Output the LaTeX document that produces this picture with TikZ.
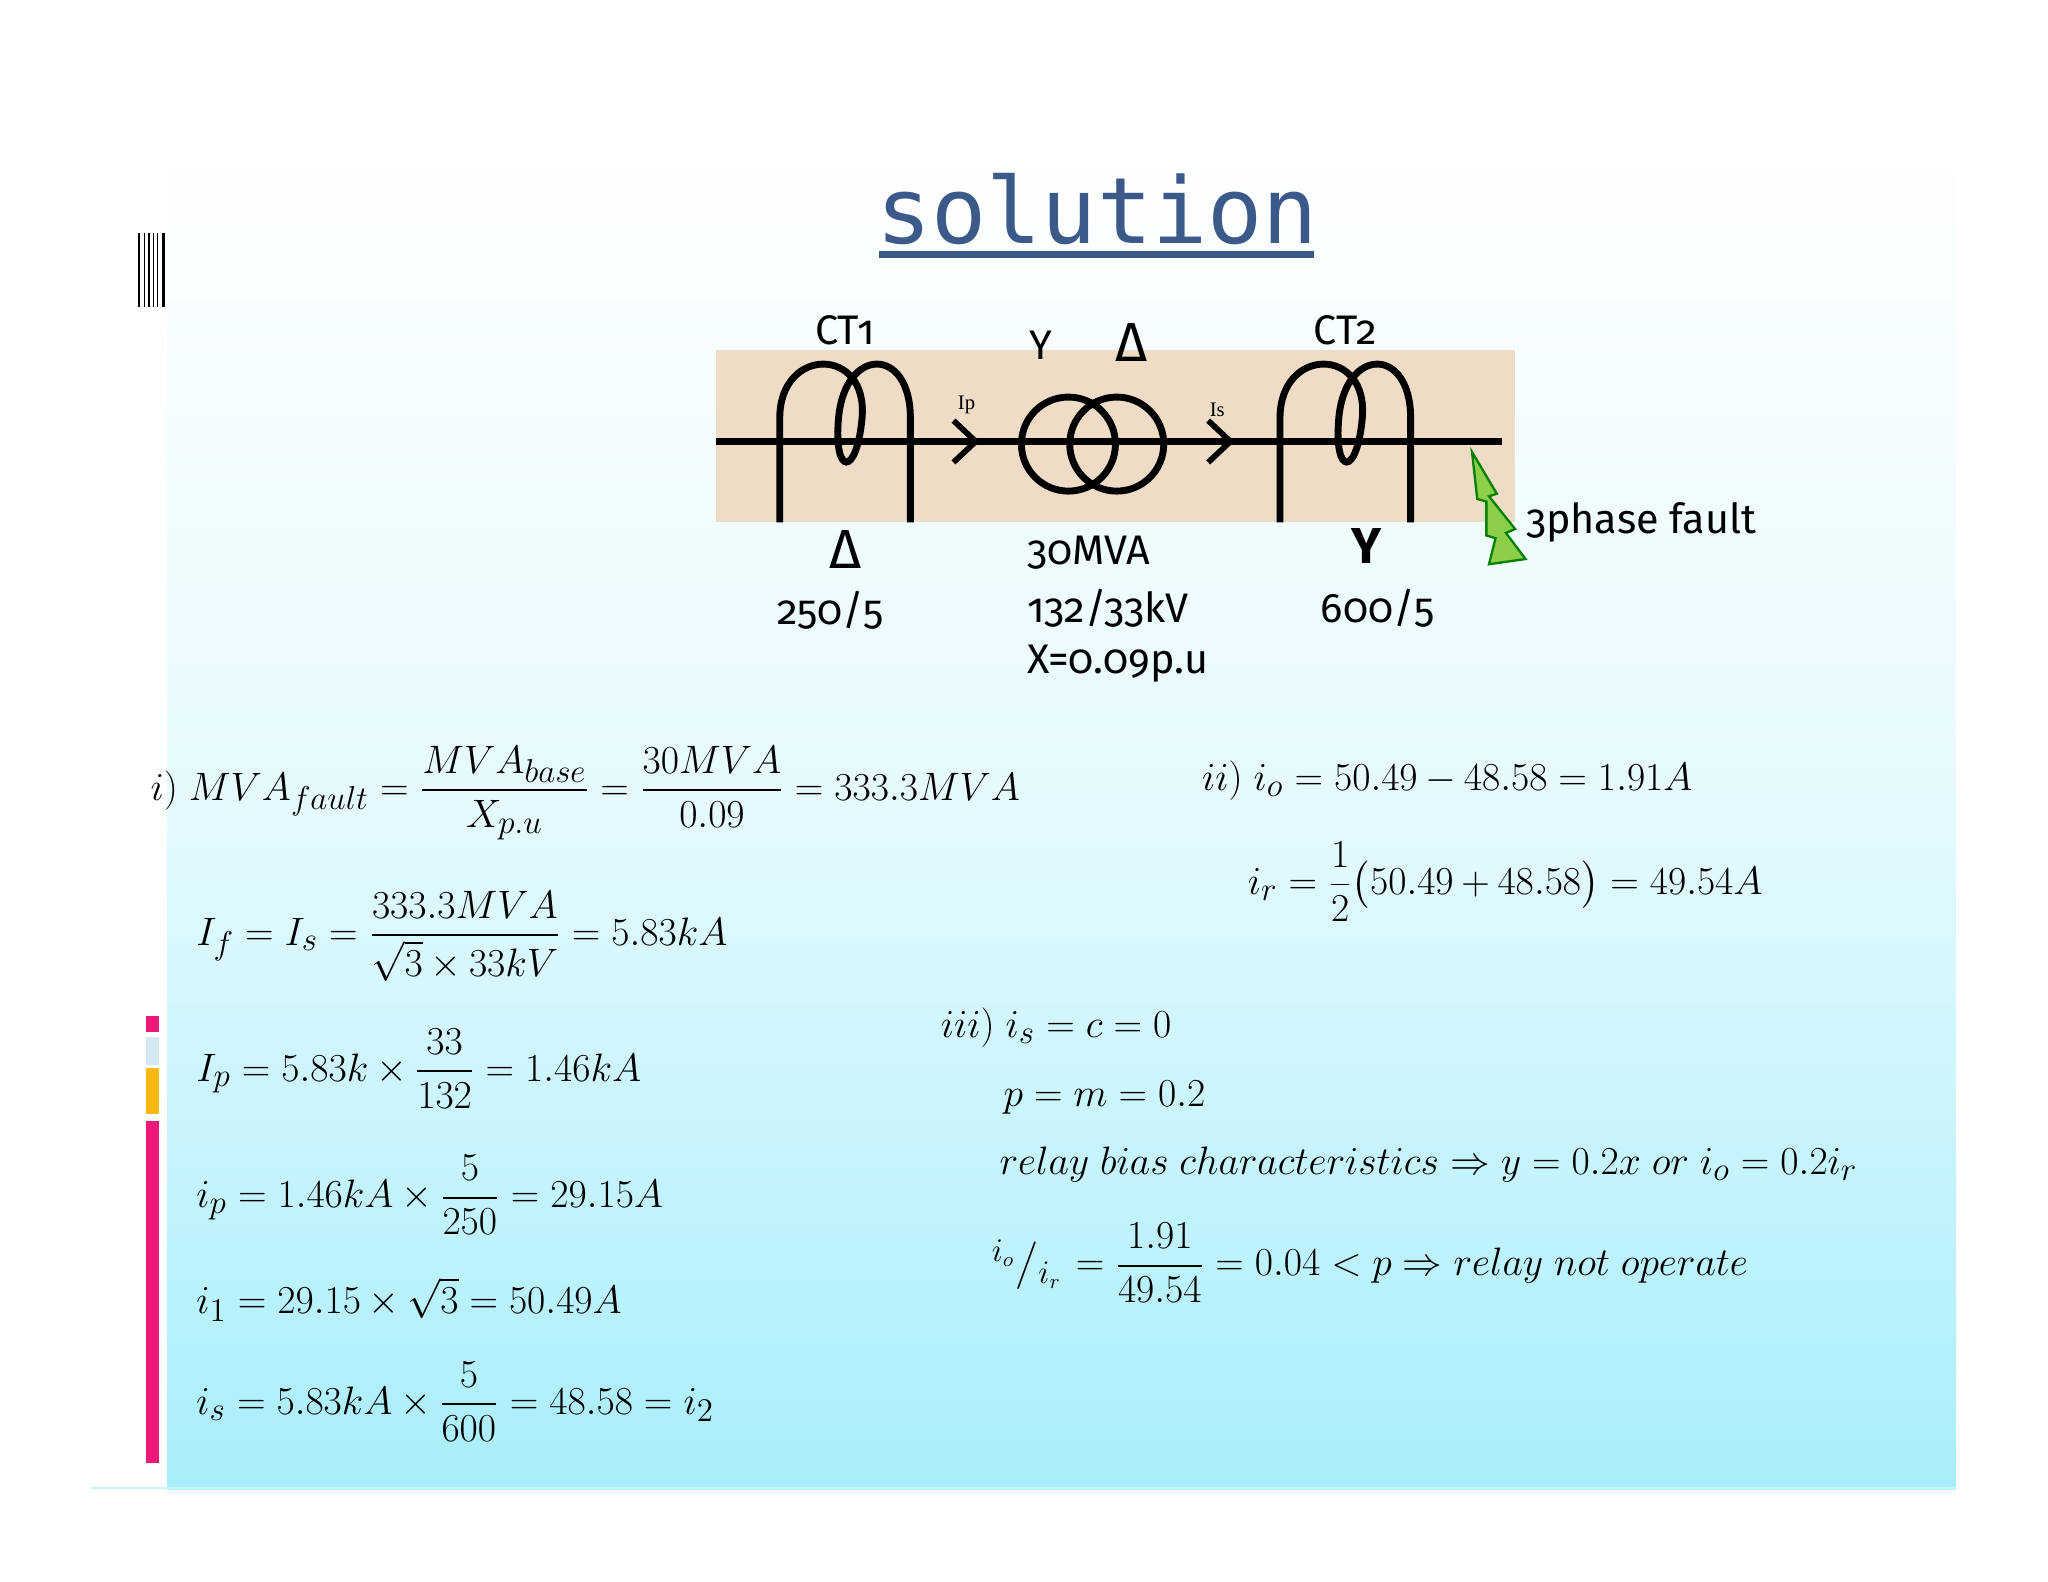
\documentclass[tikz,border=0pt]{standalone}
\usepackage{amsmath}
\usepackage{fontspec}
\setmainfont{Liberation Serif}
\newfontfamily\lab{Fira Sans}[Numbers=OldStyle]
\newfontfamily\ttl{DejaVu Sans Mono}
\usetikzlibrary{arrows.meta}
\AtBeginDocument{\thickmuskip=5mu plus 2mu\relax\medmuskip=3.5mu\relax}
\definecolor{titlec}{HTML}{3B5A8A}
\definecolor{beige}{HTML}{EEDCC6}
\definecolor{cyanb}{HTML}{A8EEFB}
\definecolor{pinkb}{HTML}{EE1A7A}
\definecolor{orangeb}{HTML}{FDB813}
\definecolor{lblue}{HTML}{D4E8F4}
\definecolor{boltc}{HTML}{8CD04A}
\tikzset{
 wire/.style={line width=3pt,black},
 lbl/.style={font=\lab\fontsize{18}{21}\selectfont,inner sep=0pt},
 eq/.style={anchor=west,inner sep=0pt,font=\fontsize{19}{23}\selectfont}
}
\begin{document}
\begin{tikzpicture}[x=0.02cm,y=-0.02cm]
\useasboundingbox (0,0) rectangle (1568,1211);
\fill[white] (0,0) rectangle (1568,1211);
\shade[top color=white,bottom color=cyanb,middle color=white!70!cyanb] (128,100) rectangle (1497,1140);
\draw[cyanb!60,line width=1pt] (70,1139) -- (1497,1139);
% barcode
\foreach \x/\w in {106/1.2,110/0.8,113/1.5,117/0.8,120/1.2,124/2}{\fill[black] (\x,178) rectangle ++(\w,57);}
\fill[pinkb] (112,778) rectangle (122,790);
\fill[lblue] (112,794) rectangle (122,815);
\fill[orangeb] (112,818) rectangle (122,853);
\fill[pinkb] (112,858) rectangle (122,1120);
% title
\node[font=\ttl\fontsize{40}{44}\selectfont,text=titlec,inner sep=0pt] (title) at (840,160) {solution};
\draw[titlec,line width=3pt] (673,195) -- (1006,195);
% diagram
\fill[beige] (548,268) rectangle (1160,400);
\draw[wire] (548,338) -- (1150,338);
\foreach \cx in {647,1030}{
 \draw[wire] (\cx-50,400) -- (\cx-50,320) .. controls (\cx-50,265) and (\cx+18,265) .. (\cx+13,320) .. controls (\cx+9,365) and (\cx-9,365) .. (\cx-5,320) .. controls (\cx,265) and (\cx+50,265) .. (\cx+50,320) -- (\cx+50,400);
}
\draw[wire] (818,340) circle (36);
\draw[wire] (855,340) circle (36);
\draw[line width=2.5pt] (730,322) -- (747,338) -- (730,354);
\draw[line width=2.5pt] (925,322) -- (942,338) -- (925,354);
\node[font=\fontsize{9}{10}\selectfont] (ip) at (740,310) {Ip};
\node[font=\fontsize{9}{10}\selectfont] (is) at (932,314) {Is};
\fill[boltc,draw=green!50!black,line width=1pt] (1127,346) -- (1146,378) -- (1140,380) -- (1160,405) -- (1153,408) -- (1168,428) -- (1140,432) -- (1145,412) -- (1138,410) -- (1138,384) -- (1131,382) -- cycle;
\node[lbl] (ct1) at (647,253) {CT1};
\node[lbl] (y1) at (797,264) {Y};
\node[lbl,font=\lab\fontsize{24}{26}\selectfont] (d1) at (866,262) {Δ};
\node[lbl] (ct2) at (1030,253) {CT2};
\node[lbl,font=\lab\fontsize{24}{26}\selectfont] (d2) at (647,421) {Δ};
\node[lbl] (r1) at (636,467) {250/5};
\node[lbl,anchor=west] (t1) at (786,423) {30MVA};
\node[lbl,anchor=west] (t2) at (786,466) {132/33kV};
\node[lbl,anchor=west] (t3) at (786,508) {X=0.09p.u};
\node[lbl,font=\lab\bfseries\fontsize{22}{24}\selectfont] (y2) at (1046,418) {Y};
\node[lbl] (r2) at (1055,466) {600/5};
\node[lbl,anchor=west] (f) at (1168,400) {3phase fault};
% equations
\node[eq] (e1) at (115,607) {$i)\;MVA_{fault}=\dfrac{MVA_{base}}{X_{p.u}}=\dfrac{30MVA}{0.09}=333.3MVA$};
\node[eq] (e2) at (150,717) {$I_f=I_s=\dfrac{333.3MVA}{\sqrt{3}\times 33kV}=5.83kA$};
\node[eq] (e3) at (150,818) {$I_p=5.83k\times\dfrac{33}{132}=1.46kA$};
\node[eq] (e4) at (150,915) {$i_p=1.46kA\times\dfrac{5}{250}=29.15A$};
\node[eq] (e5) at (150,995) {$i_1=29.15\times\sqrt{3}=50.49A$};
\node[eq] (e6) at (150,1073) {$i_s=5.83kA\times\dfrac{5}{600}=48.58=i_2$};
\node[eq] (e7) at (920,598) {$ii)\;i_o=50.49-48.58=1.91A$};
\node[eq] (e8) at (955,675) {$i_r=\dfrac{1}{2}\bigl(50.49+48.58\bigr)=49.54A$};
\node[eq] (e9) at (720,787) {$iii)\;i_s=c=0$};
\node[eq] (e10) at (768,840) {$p=m=0.2$};
\node[eq] (e11) at (765,892) {$relay\ bias\ characteristics\Rightarrow y=0.2x\ or\ i_o=0.2i_r$};
\node[eq] (e12) at (757,967) {$\left.{}^{i_o}\middle/{}_{i_r}\right.=\dfrac{1.91}{49.54}=0.04<p\Rightarrow relay\ not\ operate$};
\end{tikzpicture}
\end{document}
